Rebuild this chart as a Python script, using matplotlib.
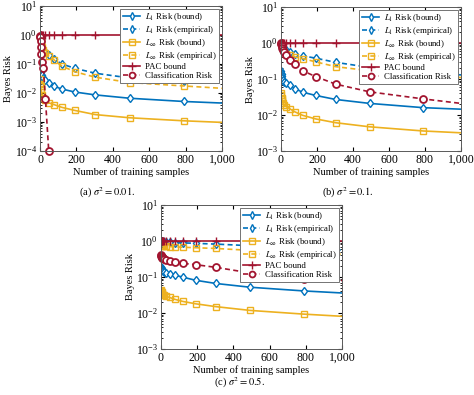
import matplotlib
matplotlib.use('Agg')
import matplotlib.pyplot as plt
from matplotlib.ticker import FixedLocator, FuncFormatter, LogLocator, NullFormatter

plt.rcParams['font.family'] = ['Liberation Serif', 'DejaVu Serif']
plt.rcParams['mathtext.fontset'] = 'stix'

# training-set sizes where the curves are sampled (last one has no marker)
n = [1, 2, 3, 5, 8, 12, 19, 30, 48, 76, 120, 192, 304, 492, 790, 1000]

# (a) sigma^2 = 0.01
l1_bound_a = [0.15, 0.106, 0.087, 0.067, 0.053, 0.043, 0.034, 0.027, 0.022, 0.0172, 0.0137, 0.0108, 0.0086, 0.0066, 0.0051, 0.0045]
l1_emp_a = [0.9, 0.8, 0.7, 0.6, 0.5, 0.4, 0.33, 0.26, 0.2, 0.15, 0.1, 0.071, 0.048, 0.033, 0.026, 0.022]
linf_bound_a = [0.03, 0.021, 0.0174, 0.0134, 0.0106, 0.0086, 0.0068, 0.0056, 0.0046, 0.004, 0.0032, 0.0025, 0.0018, 0.0014, 0.0011, 0.00097]
linf_emp_a = [0.85, 0.75, 0.65, 0.55, 0.47, 0.38, 0.3, 0.24, 0.19, 0.14, 0.085, 0.054, 0.035, 0.023, 0.0175, 0.0145]
pac_a = [1.0] * 16
cls_n_a = [1, 2, 3, 5, 8, 12, 19, 30, 48]
cls_a = [0.95, 0.85, 0.6, 0.4, 0.23, 0.12, 0.07, 0.006, 1e-4]

# (b) sigma^2 = 0.1
l1_bound_b = [0.17, 0.15, 0.135, 0.12, 0.105, 0.095, 0.085, 0.077, 0.067, 0.054, 0.043, 0.035, 0.027, 0.021, 0.016, 0.0145]
l1_emp_b = [1.0, 0.95, 0.9, 0.85, 0.8, 0.74, 0.68, 0.62, 0.57, 0.5, 0.44, 0.38, 0.29, 0.21, 0.15, 0.13]
linf_bound_b = [0.04, 0.035, 0.03, 0.027, 0.024, 0.021, 0.019, 0.017, 0.015, 0.0123, 0.0098, 0.0078, 0.0061, 0.0047, 0.0036, 0.0032]
linf_emp_b = [0.8, 0.77, 0.73, 0.69, 0.65, 0.6, 0.55, 0.5, 0.46, 0.41, 0.37, 0.3, 0.22, 0.17, 0.13, 0.11]
pac_b = [1.0] * 16
cls_n_b = n
cls_b = [1.0, 0.93, 0.87, 0.8, 0.72, 0.65, 0.55, 0.45, 0.34, 0.26, 0.17, 0.117, 0.072, 0.044, 0.028, 0.021]

# (c) sigma^2 = 0.5
l1_bound_c = [0.19, 0.18, 0.175, 0.165, 0.155, 0.148, 0.14, 0.133, 0.125, 0.113, 0.099, 0.081, 0.066, 0.052, 0.041, 0.036]
l1_emp_c = [1.0, 0.99, 0.98, 0.97, 0.96, 0.95, 0.94, 0.93, 0.92, 0.9, 0.89, 0.86, 0.82, 0.74, 0.62, 0.56]
linf_bound_c = [0.044, 0.041, 0.039, 0.036, 0.034, 0.032, 0.031, 0.029, 0.027, 0.024, 0.021, 0.018, 0.015, 0.0118, 0.0093, 0.0081]
linf_emp_c = [0.78, 0.77, 0.76, 0.75, 0.74, 0.73, 0.72, 0.71, 0.7, 0.69, 0.67, 0.65, 0.62, 0.55, 0.47, 0.43]
pac_c = [1.0] * 16
cls_n_c = n
cls_c = [0.4, 0.38, 0.37, 0.36, 0.34, 0.33, 0.32, 0.3, 0.28, 0.26, 0.24, 0.22, 0.185, 0.13, 0.09, 0.08]

blue = '#0072BD'
yellow = '#EDB120'
red = '#A2142F'
mk = list(range(15))
dash = (3, 2)


def panel(ax, l1b, l1e, lib, lie, pac, cn, cls, ymin):
    ax.plot(n, l1b, '-', color=blue, lw=1.2, marker='d', ms=4.5, mfc='white', mew=1.0,
            markevery=mk, label=r'$L_1$ Risk (bound)')
    ax.plot(n, l1e, '--', dashes=dash, color=blue, lw=1.2, marker='d', ms=4.5, mfc='white', mew=1.0,
            markevery=mk, label=r'$L_1$ Risk (empirical)')
    ax.plot(n, lib, '-', color=yellow, lw=1.2, marker='s', ms=5, mfc='none', mew=1.0,
            markevery=mk, label=r'$L_\infty$ Risk (bound)')
    ax.plot(n, lie, '--', dashes=dash, color=yellow, lw=1.2, marker='s', ms=5, mfc='none', mew=1.0,
            markevery=mk, label=r'$L_\infty$ Risk (empirical)')
    ax.plot(n, pac, '-', color=red, lw=1.2, marker='+', ms=6, mew=1.0,
            markevery=mk, label='PAC bound')
    ax.plot(cn, cls, '--', dashes=dash, color=red, lw=1.2, marker='o', ms=5, mfc='white', mew=1.3,
            markevery=[i for i in range(len(cn)) if cn[i] < 1000],
            label='Classification Risk', clip_on=False)

    ax.set_yscale('log')
    ax.set_xlim(0, 1000)
    ax.set_ylim(ymin, 10)
    ax.xaxis.set_major_locator(FixedLocator([0, 200, 400, 600, 800, 1000]))
    ax.xaxis.set_major_formatter(FuncFormatter(lambda v, p: '{:,}'.format(int(v))))
    ax.yaxis.set_major_locator(LogLocator(base=10, numticks=10))
    ax.yaxis.set_minor_locator(LogLocator(base=10, subs=range(2, 10), numticks=10))
    ax.yaxis.set_minor_formatter(NullFormatter())
    ax.tick_params(which='both', direction='in', top=True, right=True, labelsize=8.5, pad=2)
    ax.tick_params(which='major', length=3)
    ax.tick_params(which='minor', length=1.5)
    for s in ax.spines.values():
        s.set_color('0.35')
        s.set_linewidth(0.7)
    ax.set_xlabel('Number of training samples', fontsize=7.5, labelpad=1)
    ax.set_ylabel('Bayes Risk', fontsize=7.5, labelpad=1)
    leg = ax.legend(loc='upper right', bbox_to_anchor=(0.985, 0.98), borderaxespad=0,
                    fontsize=6.3, labelspacing=0.12, handlelength=2.0, handletextpad=0.5,
                    borderpad=0.3, fancybox=False, framealpha=1, markerscale=0.85)
    leg.get_frame().set_edgecolor('0.45')
    leg.get_frame().set_linewidth(0.7)


fig = plt.figure(figsize=(4.74, 3.95), dpi=100)
ax_a = fig.add_axes([40 / 474, 1 - 151 / 395, 182 / 474, 145 / 395])
ax_b = fig.add_axes([281 / 474, 1 - 151 / 395, 180 / 474, 144 / 395])
ax_c = fig.add_axes([161 / 474, 1 - 349 / 395, 181 / 474, 144 / 395])

panel(ax_a, l1_bound_a, l1_emp_a, linf_bound_a, linf_emp_a, pac_a, cls_n_a, cls_a, 1e-4)
panel(ax_b, l1_bound_b, l1_emp_b, linf_bound_b, linf_emp_b, pac_b, cls_n_b, cls_b, 1e-3)
panel(ax_c, l1_bound_c, l1_emp_c, linf_bound_c, linf_emp_c, pac_c, cls_n_c, cls_c, 1e-3)

fig.text(107 / 474, 1 - 193 / 395, r'(a) $\sigma^2 = 0.01$.', ha='center', va='center', fontsize=7.5)
fig.text(348 / 474, 1 - 193 / 395, r'(b) $\sigma^2 = 0.1$.', ha='center', va='center', fontsize=7.5)
fig.text(240 / 474, 1 - 383 / 395, r'(c) $\sigma^2 = 0.5$.', ha='center', va='center', fontsize=7.5)

fig.savefig('out.png', dpi=100)
